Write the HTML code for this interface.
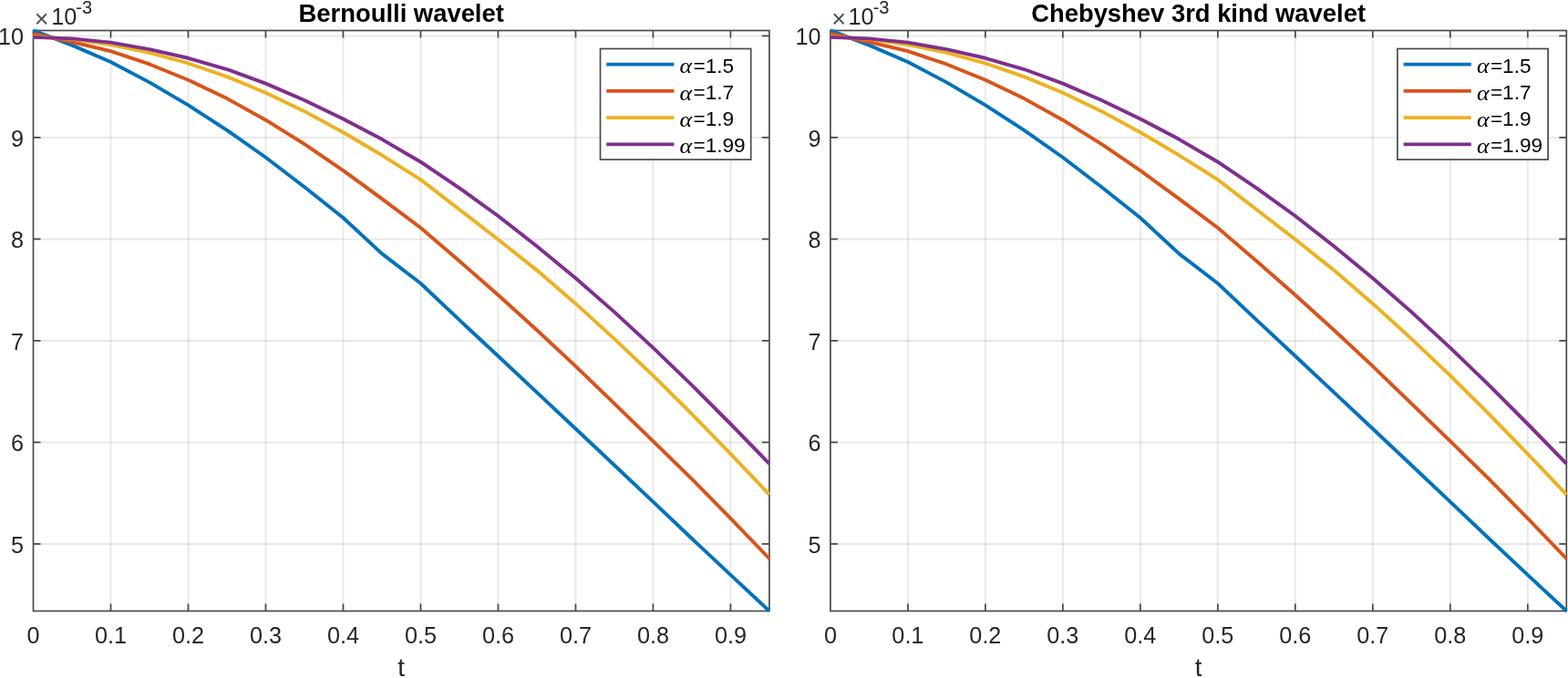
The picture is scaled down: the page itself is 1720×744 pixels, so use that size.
<!DOCTYPE html>
<html><head><meta charset="utf-8"><style>
html,body{margin:0;padding:0;background:#fff;}
svg{display:block;}
.tl{font-family:"Liberation Sans", Arial, Helvetica, sans-serif;font-size:25.2px;fill:#262626;}
.sup{font-family:"Liberation Sans", Arial, Helvetica, sans-serif;font-size:20px;fill:#262626;}
.tx{font-family:"Liberation Sans", Arial, Helvetica, sans-serif;font-size:27px;fill:#505050;}
.xl{font-family:"Liberation Sans", Arial, Helvetica, sans-serif;font-size:27.7px;fill:#262626;}
.ti{font-family:"Liberation Sans", Arial, Helvetica, sans-serif;font-size:27.4px;font-weight:bold;fill:#000;}
.lg{font-family:"Liberation Sans", Arial, Helvetica, sans-serif;font-size:23.2px;fill:#000;}
.lgn{font-size:22.6px;}
.al{font-family:"Liberation Serif","DejaVu Serif",serif;font-style:italic;}
</style></head><body>
<svg width="1720" height="744" viewBox="0 0 1720 744">
<rect width="1720" height="744" fill="#fff"/>
<g transform="translate(0,0)">
<path d="M121.49 33.5V670.5M206.48 33.5V670.5M291.47 33.5V670.5M376.46 33.5V670.5M461.45 33.5V670.5M546.44 33.5V670.5M631.43 33.5V670.5M716.42 33.5V670.5M801.41 33.5V670.5" stroke="#262626" stroke-opacity="0.1" stroke-width="2" fill="none"/>
<path d="M36.5 596.90H843.9M36.5 485.40H843.9M36.5 373.90H843.9M36.5 262.40H843.9M36.5 150.90H843.9M36.5 39.40H843.9" stroke="#262626" stroke-opacity="0.1" stroke-width="2" fill="none"/>
<path d="M121.49 670.5v-8M121.49 33.5v8M206.48 670.5v-8M206.48 33.5v8M291.47 670.5v-8M291.47 33.5v8M376.46 670.5v-8M376.46 33.5v8M461.45 670.5v-8M461.45 33.5v8M546.44 670.5v-8M546.44 33.5v8M631.43 670.5v-8M631.43 33.5v8M716.42 670.5v-8M716.42 33.5v8M801.41 670.5v-8M801.41 33.5v8M36.5 596.90h8M843.9 596.90h-8M36.5 485.40h8M843.9 485.40h-8M36.5 373.90h8M843.9 373.90h-8M36.5 262.40h8M843.9 262.40h-8M36.5 150.90h8M843.9 150.90h-8M36.5 39.40h8M843.9 39.40h-8" stroke="#4a4a4a" stroke-width="1.7" fill="none"/>
<rect x="36.5" y="33.5" width="807.40" height="637.00" stroke="#4a4a4a" stroke-width="1.7" fill="none"/>
<polyline points="36.50,33.40 79.00,49.60 121.49,68.05 163.99,90.36 206.48,115.43 248.97,142.88 291.47,172.73 333.97,205.21 376.46,239.00 418.95,278.40 461.45,311.00 503.95,351.20 546.44,390.71 588.94,430.60 631.43,470.54 673.92,510.52 716.42,550.66 758.92,591.02 801.41,630.94 843.91,670.50" stroke="#0072BD" stroke-width="3.9" fill="none" stroke-linejoin="round"/>
<polyline points="36.50,37.00 79.00,46.00 121.49,56.22 163.99,70.46 206.48,87.71 248.97,108.09 291.47,131.71 333.97,158.16 376.46,187.20 418.95,218.20 461.45,250.00 503.95,286.46 546.44,323.80 588.94,362.27 631.43,401.94 673.92,442.92 716.42,484.19 758.92,525.65 801.41,568.76 843.91,613.00" stroke="#D95319" stroke-width="3.9" fill="none" stroke-linejoin="round"/>
<polyline points="36.50,40.30 79.00,42.90 121.49,49.03 163.99,57.87 206.48,69.48 248.97,84.13 291.47,101.74 333.97,122.14 376.46,145.21 418.95,170.29 461.45,197.10 503.95,229.92 546.44,262.77 588.94,296.60 631.43,333.16 673.92,371.86 716.42,412.14 758.92,454.40 801.41,498.08 843.91,542.60" stroke="#EDB120" stroke-width="3.9" fill="none" stroke-linejoin="round"/>
<polyline points="36.50,40.85 79.00,42.40 121.49,46.67 163.99,54.10 206.48,63.76 248.97,76.02 291.47,91.63 333.97,110.07 376.46,130.43 418.95,152.82 461.45,177.70 503.95,206.31 546.44,236.98 588.94,270.25 631.43,305.25 673.92,342.37 716.42,381.67 758.92,422.57 801.41,465.25 843.91,508.90" stroke="#7E2F8E" stroke-width="3.9" fill="none" stroke-linejoin="round"/>
<text x="36.50" y="706" text-anchor="middle" class="tl">0</text>
<text x="121.49" y="706" text-anchor="middle" class="tl">0.1</text>
<text x="206.48" y="706" text-anchor="middle" class="tl">0.2</text>
<text x="291.47" y="706" text-anchor="middle" class="tl">0.3</text>
<text x="376.46" y="706" text-anchor="middle" class="tl">0.4</text>
<text x="461.45" y="706" text-anchor="middle" class="tl">0.5</text>
<text x="546.44" y="706" text-anchor="middle" class="tl">0.6</text>
<text x="631.43" y="706" text-anchor="middle" class="tl">0.7</text>
<text x="716.42" y="706" text-anchor="middle" class="tl">0.8</text>
<text x="801.41" y="706" text-anchor="middle" class="tl">0.9</text>
<text x="26.1" y="606.50" text-anchor="end" class="tl">5</text>
<text x="26.1" y="495.00" text-anchor="end" class="tl">6</text>
<text x="26.1" y="383.50" text-anchor="end" class="tl">7</text>
<text x="26.1" y="272.00" text-anchor="end" class="tl">8</text>
<text x="26.1" y="160.50" text-anchor="end" class="tl">9</text>
<text x="26.1" y="49.00" text-anchor="end" class="tl">10</text>
<text x="37.8" y="30" class="tx">×</text>
<text x="56.2" y="27" class="tl">10</text>
<text x="83.3" y="14.6" class="sup">-3</text>
<text x="440.20" y="24.4" text-anchor="middle" class="ti">Bernoulli wavelet</text>
<text x="440.20" y="742.2" text-anchor="middle" class="xl">t</text>
<rect x="658.5" y="53.5" width="165.2" height="121.6" fill="#fff" stroke="#4a4a4a" stroke-width="1.7"/>
<path d="M665.2 70.60H739.4" stroke="#0072BD" stroke-width="3.9"/>
<text transform="translate(745.6 80.40) scale(1.12 1)" class="lg al">α</text>
<text x="760.5" y="79.70" class="lg lgn">=1.5</text>
<path d="M665.2 99.85H739.4" stroke="#D95319" stroke-width="3.9"/>
<text transform="translate(745.6 109.65) scale(1.12 1)" class="lg al">α</text>
<text x="760.5" y="108.95" class="lg lgn">=1.7</text>
<path d="M665.2 129.10H739.4" stroke="#EDB120" stroke-width="3.9"/>
<text transform="translate(745.6 138.90) scale(1.12 1)" class="lg al">α</text>
<text x="760.5" y="138.20" class="lg lgn">=1.9</text>
<path d="M665.2 158.35H739.4" stroke="#7E2F8E" stroke-width="3.9"/>
<text transform="translate(745.6 168.15) scale(1.12 1)" class="lg al">α</text>
<text x="760.5" y="167.45" class="lg lgn">=1.99</text>
</g>
<g transform="translate(874.4,0)">
<path d="M121.49 33.5V670.5M206.48 33.5V670.5M291.47 33.5V670.5M376.46 33.5V670.5M461.45 33.5V670.5M546.44 33.5V670.5M631.43 33.5V670.5M716.42 33.5V670.5M801.41 33.5V670.5" stroke="#262626" stroke-opacity="0.1" stroke-width="2" fill="none"/>
<path d="M36.5 596.90H843.9M36.5 485.40H843.9M36.5 373.90H843.9M36.5 262.40H843.9M36.5 150.90H843.9M36.5 39.40H843.9" stroke="#262626" stroke-opacity="0.1" stroke-width="2" fill="none"/>
<path d="M121.49 670.5v-8M121.49 33.5v8M206.48 670.5v-8M206.48 33.5v8M291.47 670.5v-8M291.47 33.5v8M376.46 670.5v-8M376.46 33.5v8M461.45 670.5v-8M461.45 33.5v8M546.44 670.5v-8M546.44 33.5v8M631.43 670.5v-8M631.43 33.5v8M716.42 670.5v-8M716.42 33.5v8M801.41 670.5v-8M801.41 33.5v8M36.5 596.90h8M843.9 596.90h-8M36.5 485.40h8M843.9 485.40h-8M36.5 373.90h8M843.9 373.90h-8M36.5 262.40h8M843.9 262.40h-8M36.5 150.90h8M843.9 150.90h-8M36.5 39.40h8M843.9 39.40h-8" stroke="#4a4a4a" stroke-width="1.7" fill="none"/>
<rect x="36.5" y="33.5" width="807.40" height="637.00" stroke="#4a4a4a" stroke-width="1.7" fill="none"/>
<polyline points="36.50,33.40 79.00,49.60 121.49,68.05 163.99,90.36 206.48,115.43 248.97,142.88 291.47,172.73 333.97,205.21 376.46,239.00 418.95,278.40 461.45,311.00 503.95,351.20 546.44,390.71 588.94,430.60 631.43,470.54 673.92,510.52 716.42,550.66 758.92,591.02 801.41,630.94 843.91,670.50" stroke="#0072BD" stroke-width="3.9" fill="none" stroke-linejoin="round"/>
<polyline points="36.50,37.00 79.00,46.00 121.49,56.22 163.99,70.46 206.48,87.71 248.97,108.09 291.47,131.71 333.97,158.16 376.46,187.20 418.95,218.20 461.45,250.00 503.95,286.46 546.44,323.80 588.94,362.27 631.43,401.94 673.92,442.92 716.42,484.19 758.92,525.65 801.41,568.76 843.91,613.00" stroke="#D95319" stroke-width="3.9" fill="none" stroke-linejoin="round"/>
<polyline points="36.50,40.30 79.00,42.90 121.49,49.03 163.99,57.87 206.48,69.48 248.97,84.13 291.47,101.74 333.97,122.14 376.46,145.21 418.95,170.29 461.45,197.10 503.95,229.92 546.44,262.77 588.94,296.60 631.43,333.16 673.92,371.86 716.42,412.14 758.92,454.40 801.41,498.08 843.91,542.60" stroke="#EDB120" stroke-width="3.9" fill="none" stroke-linejoin="round"/>
<polyline points="36.50,40.85 79.00,42.40 121.49,46.67 163.99,54.10 206.48,63.76 248.97,76.02 291.47,91.63 333.97,110.07 376.46,130.43 418.95,152.82 461.45,177.70 503.95,206.31 546.44,236.98 588.94,270.25 631.43,305.25 673.92,342.37 716.42,381.67 758.92,422.57 801.41,465.25 843.91,508.90" stroke="#7E2F8E" stroke-width="3.9" fill="none" stroke-linejoin="round"/>
<text x="36.50" y="706" text-anchor="middle" class="tl">0</text>
<text x="121.49" y="706" text-anchor="middle" class="tl">0.1</text>
<text x="206.48" y="706" text-anchor="middle" class="tl">0.2</text>
<text x="291.47" y="706" text-anchor="middle" class="tl">0.3</text>
<text x="376.46" y="706" text-anchor="middle" class="tl">0.4</text>
<text x="461.45" y="706" text-anchor="middle" class="tl">0.5</text>
<text x="546.44" y="706" text-anchor="middle" class="tl">0.6</text>
<text x="631.43" y="706" text-anchor="middle" class="tl">0.7</text>
<text x="716.42" y="706" text-anchor="middle" class="tl">0.8</text>
<text x="801.41" y="706" text-anchor="middle" class="tl">0.9</text>
<text x="26.1" y="606.50" text-anchor="end" class="tl">5</text>
<text x="26.1" y="495.00" text-anchor="end" class="tl">6</text>
<text x="26.1" y="383.50" text-anchor="end" class="tl">7</text>
<text x="26.1" y="272.00" text-anchor="end" class="tl">8</text>
<text x="26.1" y="160.50" text-anchor="end" class="tl">9</text>
<text x="26.1" y="49.00" text-anchor="end" class="tl">10</text>
<text x="37.8" y="30" class="tx">×</text>
<text x="56.2" y="27" class="tl">10</text>
<text x="83.3" y="14.6" class="sup">-3</text>
<text x="440.20" y="24.4" text-anchor="middle" class="ti">Chebyshev 3rd kind wavelet</text>
<text x="440.20" y="742.2" text-anchor="middle" class="xl">t</text>
<rect x="658.5" y="53.5" width="165.2" height="121.6" fill="#fff" stroke="#4a4a4a" stroke-width="1.7"/>
<path d="M665.2 70.60H739.4" stroke="#0072BD" stroke-width="3.9"/>
<text transform="translate(745.6 80.40) scale(1.12 1)" class="lg al">α</text>
<text x="760.5" y="79.70" class="lg lgn">=1.5</text>
<path d="M665.2 99.85H739.4" stroke="#D95319" stroke-width="3.9"/>
<text transform="translate(745.6 109.65) scale(1.12 1)" class="lg al">α</text>
<text x="760.5" y="108.95" class="lg lgn">=1.7</text>
<path d="M665.2 129.10H739.4" stroke="#EDB120" stroke-width="3.9"/>
<text transform="translate(745.6 138.90) scale(1.12 1)" class="lg al">α</text>
<text x="760.5" y="138.20" class="lg lgn">=1.9</text>
<path d="M665.2 158.35H739.4" stroke="#7E2F8E" stroke-width="3.9"/>
<text transform="translate(745.6 168.15) scale(1.12 1)" class="lg al">α</text>
<text x="760.5" y="167.45" class="lg lgn">=1.99</text>
</g>
</svg>
</body></html>
